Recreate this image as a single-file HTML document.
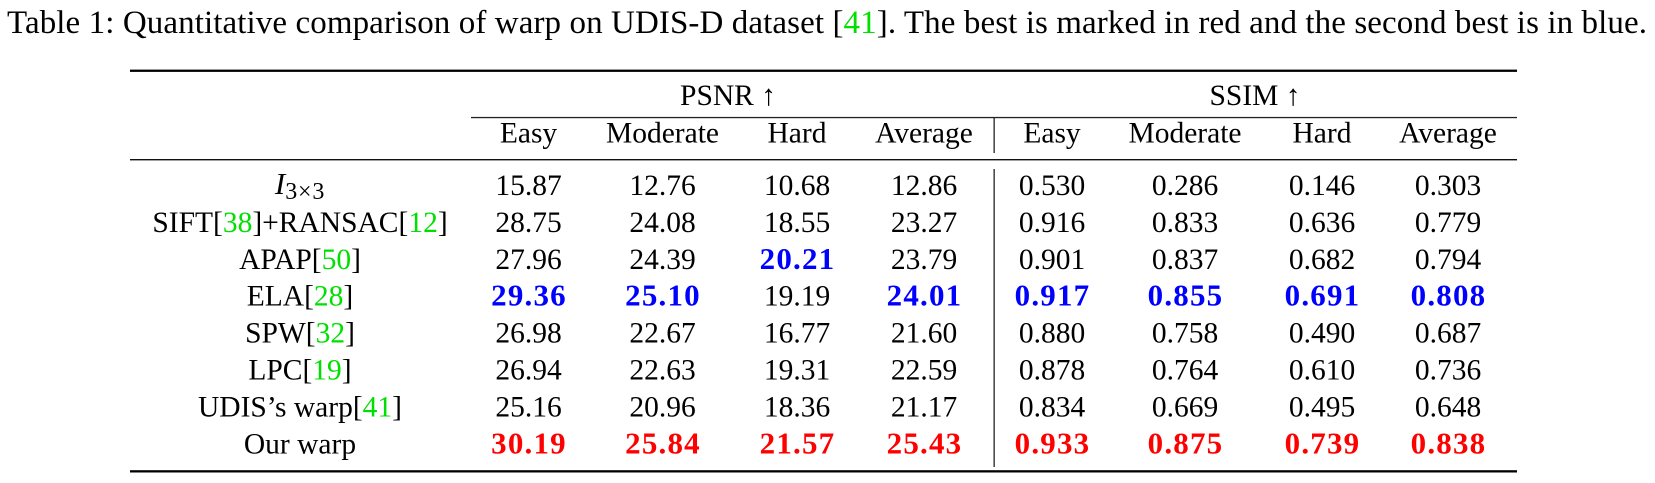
<!DOCTYPE html>
<html>
<head>
<meta charset="utf-8">
<style>
  html, body { margin:0; padding:0; background:#fff; }
  svg { display:block; }
  text { font-family: "Liberation Serif", "DejaVu Serif", serif; fill:#000; }
  .cap { font-size:33px; }
  .t { font-size:29.5px; }
  .b { font-size:31px; font-weight:bold; letter-spacing:1.2px; }
  .g { fill:#00e000; }
  .red { fill:#ff0000; }
  .blue { fill:#0000ff; }
  .sub { font-size:24px; letter-spacing:0.8px; }
</style>
</head>
<body>
<svg width="1655" height="483" viewBox="0 0 1655 483" xmlns="http://www.w3.org/2000/svg">
  <rect x="0" y="0" width="1655" height="483" fill="#fff"/>
  <!-- caption -->
  <text class="cap" x="7" y="33" textLength="1640" lengthAdjust="spacing">Table 1: Quantitative comparison of warp on UDIS-D dataset [<tspan class="g">41</tspan>]. The best is marked in red and the second best is in blue.</text>

  <!-- rules -->
  <rect x="130" y="69.6" width="1387" height="2.3" fill="#000"/>
  <rect x="471" y="116.9" width="1046" height="1.3" fill="#222"/>
  <rect x="130" y="159.0" width="1387" height="1.4" fill="#111"/>
  <rect x="130" y="470.2" width="1387" height="2.3" fill="#000"/>
  <!-- vertical line -->
  <rect x="993.5" y="118" width="1.3" height="35" fill="#222"/>
  <rect x="993.5" y="169" width="1.3" height="298" fill="#222"/>

  <!-- header -->
  <g text-anchor="middle">
    <text class="t" x="728" y="105">PSNR ↑</text>
    <text class="t" x="1255" y="105">SSIM ↑</text>
    <text class="t" x="528.5" y="142.5">Easy</text>
    <text class="t" x="662.5" y="142.5">Moderate</text>
    <text class="t" x="797" y="142.5">Hard</text>
    <text class="t" x="924" y="142.5">Average</text>
    <text class="t" x="1052" y="142.5">Easy</text>
    <text class="t" x="1185" y="142.5">Moderate</text>
    <text class="t" x="1322" y="142.5">Hard</text>
    <text class="t" x="1448" y="142.5">Average</text>
  </g>

  <!-- row labels -->
  <g text-anchor="middle">
    <text class="t" x="300" y="194"><tspan font-style="italic" style="font-size:31px">I</tspan><tspan class="sub" dy="5">3×3</tspan></text>
    <text class="t" x="300" y="232">SIFT[<tspan class="g">38</tspan>]+RANSAC[<tspan class="g">12</tspan>]</text>
    <text class="t" x="300" y="268.8">APAP[<tspan class="g">50</tspan>]</text>
    <text class="t" x="300" y="305.7">ELA[<tspan class="g">28</tspan>]</text>
    <text class="t" x="300" y="342.6">SPW[<tspan class="g">32</tspan>]</text>
    <text class="t" x="300" y="379.5">LPC[<tspan class="g">19</tspan>]</text>
    <text class="t" x="300" y="416.4">UDIS’s warp[<tspan class="g">41</tspan>]</text>
    <text class="t" x="300" y="453.5">Our warp</text>
  </g>

  <!-- data -->
  <g text-anchor="middle">
    <!-- row 1 -->
    <text class="t" x="528.5" y="195">15.87</text>
    <text class="t" x="662.5" y="195">12.76</text>
    <text class="t" x="797" y="195">10.68</text>
    <text class="t" x="924" y="195">12.86</text>
    <text class="t" x="1052" y="195">0.530</text>
    <text class="t" x="1185" y="195">0.286</text>
    <text class="t" x="1322" y="195">0.146</text>
    <text class="t" x="1448" y="195">0.303</text>
    <!-- row 2 -->
    <text class="t" x="528.5" y="232">28.75</text>
    <text class="t" x="662.5" y="232">24.08</text>
    <text class="t" x="797" y="232">18.55</text>
    <text class="t" x="924" y="232">23.27</text>
    <text class="t" x="1052" y="232">0.916</text>
    <text class="t" x="1185" y="232">0.833</text>
    <text class="t" x="1322" y="232">0.636</text>
    <text class="t" x="1448" y="232">0.779</text>
    <!-- row 3 -->
    <text class="t" x="528.5" y="268.8">27.96</text>
    <text class="t" x="662.5" y="268.8">24.39</text>
    <text class="b blue" x="797.5" y="268.8">20.21</text>
    <text class="t" x="924" y="268.8">23.79</text>
    <text class="t" x="1052" y="268.8">0.901</text>
    <text class="t" x="1185" y="268.8">0.837</text>
    <text class="t" x="1322" y="268.8">0.682</text>
    <text class="t" x="1448" y="268.8">0.794</text>
    <!-- row 4 -->
    <text class="b blue" x="529" y="305.7">29.36</text>
    <text class="b blue" x="663" y="305.7">25.10</text>
    <text class="t" x="797" y="305.7">19.19</text>
    <text class="b blue" x="924.5" y="305.7">24.01</text>
    <text class="b blue" x="1052.5" y="305.7">0.917</text>
    <text class="b blue" x="1185.5" y="305.7">0.855</text>
    <text class="b blue" x="1322.5" y="305.7">0.691</text>
    <text class="b blue" x="1448.5" y="305.7">0.808</text>
    <!-- row 5 -->
    <text class="t" x="528.5" y="342.6">26.98</text>
    <text class="t" x="662.5" y="342.6">22.67</text>
    <text class="t" x="797" y="342.6">16.77</text>
    <text class="t" x="924" y="342.6">21.60</text>
    <text class="t" x="1052" y="342.6">0.880</text>
    <text class="t" x="1185" y="342.6">0.758</text>
    <text class="t" x="1322" y="342.6">0.490</text>
    <text class="t" x="1448" y="342.6">0.687</text>
    <!-- row 6 -->
    <text class="t" x="528.5" y="379.5">26.94</text>
    <text class="t" x="662.5" y="379.5">22.63</text>
    <text class="t" x="797" y="379.5">19.31</text>
    <text class="t" x="924" y="379.5">22.59</text>
    <text class="t" x="1052" y="379.5">0.878</text>
    <text class="t" x="1185" y="379.5">0.764</text>
    <text class="t" x="1322" y="379.5">0.610</text>
    <text class="t" x="1448" y="379.5">0.736</text>
    <!-- row 7 -->
    <text class="t" x="528.5" y="416.4">25.16</text>
    <text class="t" x="662.5" y="416.4">20.96</text>
    <text class="t" x="797" y="416.4">18.36</text>
    <text class="t" x="924" y="416.4">21.17</text>
    <text class="t" x="1052" y="416.4">0.834</text>
    <text class="t" x="1185" y="416.4">0.669</text>
    <text class="t" x="1322" y="416.4">0.495</text>
    <text class="t" x="1448" y="416.4">0.648</text>
    <!-- row 8 -->
    <text class="b red" x="529" y="453.5">30.19</text>
    <text class="b red" x="663" y="453.5">25.84</text>
    <text class="b red" x="797.5" y="453.5">21.57</text>
    <text class="b red" x="924.5" y="453.5">25.43</text>
    <text class="b red" x="1052.5" y="453.5">0.933</text>
    <text class="b red" x="1185.5" y="453.5">0.875</text>
    <text class="b red" x="1322.5" y="453.5">0.739</text>
    <text class="b red" x="1448.5" y="453.5">0.838</text>
  </g>
</svg>
</body>
</html>
